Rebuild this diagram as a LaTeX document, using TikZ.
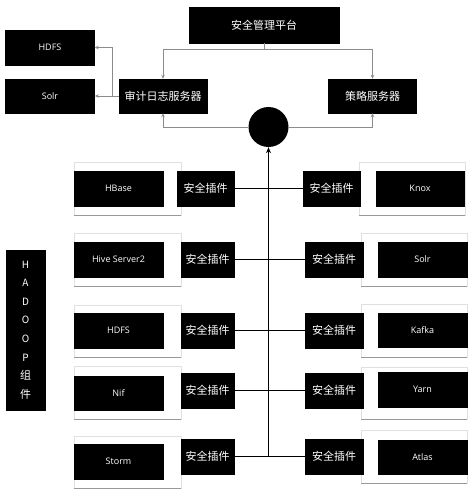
\documentclass[tikz,border=0pt]{standalone}
\usepackage{fontspec}
\setmainfont{Open Sans}
\newfontfamily\cjk{Noto Sans CJK SC}
\usetikzlibrary{arrows.meta}
\tikzset{
  blk/.style={fill=black, draw=black, text=white, inner sep=0pt, font=\fontsize{9}{10}\selectfont},
  comp/.style={blk, minimum width=89pt, minimum height=35pt},
  plug/.style={blk, minimum width=55pt, minimum height=35pt, font=\cjk\fontsize{11}{12}\selectfont},
  srv/.style={blk, minimum width=88pt, minimum height=34pt, font=\cjk\fontsize{11}{12}\selectfont},
  grp/.style={draw=black!12, line width=0.5pt},
  grpb/.style={draw=black!40, line width=0.7pt},
  gline/.style={draw=black!45, line width=0.8pt},
  garrow/.style={gline, -{Stealth[length=4pt,width=3.5pt]}},
  bline/.style={draw=black, line width=1.3pt},
}
\newcommand{\grpbox}[4]{\draw[grp] (#1,#2) rectangle (#3,#4); \draw[grpb] (#1,#4) -- (#3,#4);}
\begin{document}
\begin{tikzpicture}[x=1pt,y=-1pt]
\useasboundingbox (0,0) rectangle (474,495);
% group boxes
\grpbox{74}{162}{181}{215}
\grpbox{359}{162}{465}{215}
\grpbox{74}{233}{181}{286}
\grpbox{361}{233}{467}{286}
\grpbox{74}{305}{181}{357}
\grpbox{361}{304}{467}{357}
\grpbox{74}{366}{181}{419}
\grpbox{361}{367}{467}{419}
\grpbox{74}{436}{181}{488}
\grpbox{361}{430}{467}{483}
% top part
\node[srv, minimum width=150pt, minimum height=36pt] (plat) at (264,25) {安全管理平台};
\node[comp, minimum height=35pt] (hdfs0) at (50,47.5) {HDFS};
\node[comp, minimum height=34pt] (solr0) at (50,96) {Solr};
\node[srv] (audit) at (163,96) {审计日志服务器};
\node[srv] (policy) at (372.5,96) {策略服务器};
\node[circle, fill=black, minimum size=40pt, inner sep=0pt] (hub) at (268.5,127) {};
\coordinate (split) at (264,49);
\coordinate (ajoin) at (112,96);
\draw[gline] (plat.south) -- (split);
\draw[garrow] (split) -| (audit.north);
\draw[garrow] (split) -| (policy.north);
\draw[gline] (audit.west) -- (ajoin);
\draw[garrow] (ajoin) -- (solr0.east);
\draw[garrow] (ajoin) |- (hdfs0.east);
\draw[garrow] (hub.west) -| (audit.south);
\draw[garrow] (hub.east) -| (policy.south);
% HADOOP label
\node[blk, minimum width=39pt, minimum height=160pt, align=center, font=\cjk\fontsize{10}{18.6}\selectfont] (hadoop) at (25.5,330) {H\\A\\D\\O\\O\\P\\{\fontsize{11}{18.6}\selectfont 组}\\{\fontsize{11}{18.6}\selectfont 件}};
% rows
\node[comp] (c1l) at (118.5,188.5) {HBase};
\node[plug, minimum width=57pt] (p1l) at (205.5,188.5) {安全插件};
\node[plug, minimum width=57pt] (p1r) at (331.5,188.5) {安全插件};
\node[comp, minimum width=88pt] (c1r) at (420,188.5) {Knox};
\node[comp] (c2l) at (118.5,259.5) {Hive Server2};
\node[plug, minimum width=53pt] (p2l) at (207.5,259.5) {安全插件};
\node[plug, minimum width=58pt] (p2r) at (334,259.5) {安全插件};
\node[comp] (c2r) at (422.5,259.5) {Solr};
\node[comp] (c3l) at (118.5,330.5) {HDFS};
\node[plug, minimum width=53pt] (p3l) at (207.5,330.5) {安全插件};
\node[plug, minimum width=58pt] (p3r) at (334,330.5) {安全插件};
\node[comp, minimum height=34pt] (c3r) at (422.5,330) {Kafka};
\node[comp, minimum height=34pt] (c4l) at (118.5,393) {Nif};
\node[plug, minimum width=53pt] (p4l) at (207.5,390.5) {安全插件};
\node[plug, minimum width=58pt] (p4r) at (334,390.5) {安全插件};
\node[comp] (c4r) at (422.5,389.5) {Yarn};
\node[comp] (c5l) at (118.5,461.5) {Storm};
\node[plug, minimum width=53pt] (p5l) at (207.5,456.5) {安全插件};
\node[plug, minimum width=58pt] (p5r) at (334,456.5) {安全插件};
\node[comp, minimum height=34pt] (c5r) at (422.5,457) {Atlas};
% connectors
\draw[bline] (p1l.east) -- (p1r.west);
\draw[bline] (p2l.east) -- (p2r.west);
\draw[bline] (p3l.east) -- (p3r.west);
\draw[bline] (p4l.east) -- (p4r.west);
\draw[bline] (p5l.east) -- (p5r.west);
\coordinate (bot) at (268.5,456.5);
\draw[bline, -{Stealth[length=6pt,width=5pt]}] (bot) -- (hub.south);
\end{tikzpicture}
\end{document}
